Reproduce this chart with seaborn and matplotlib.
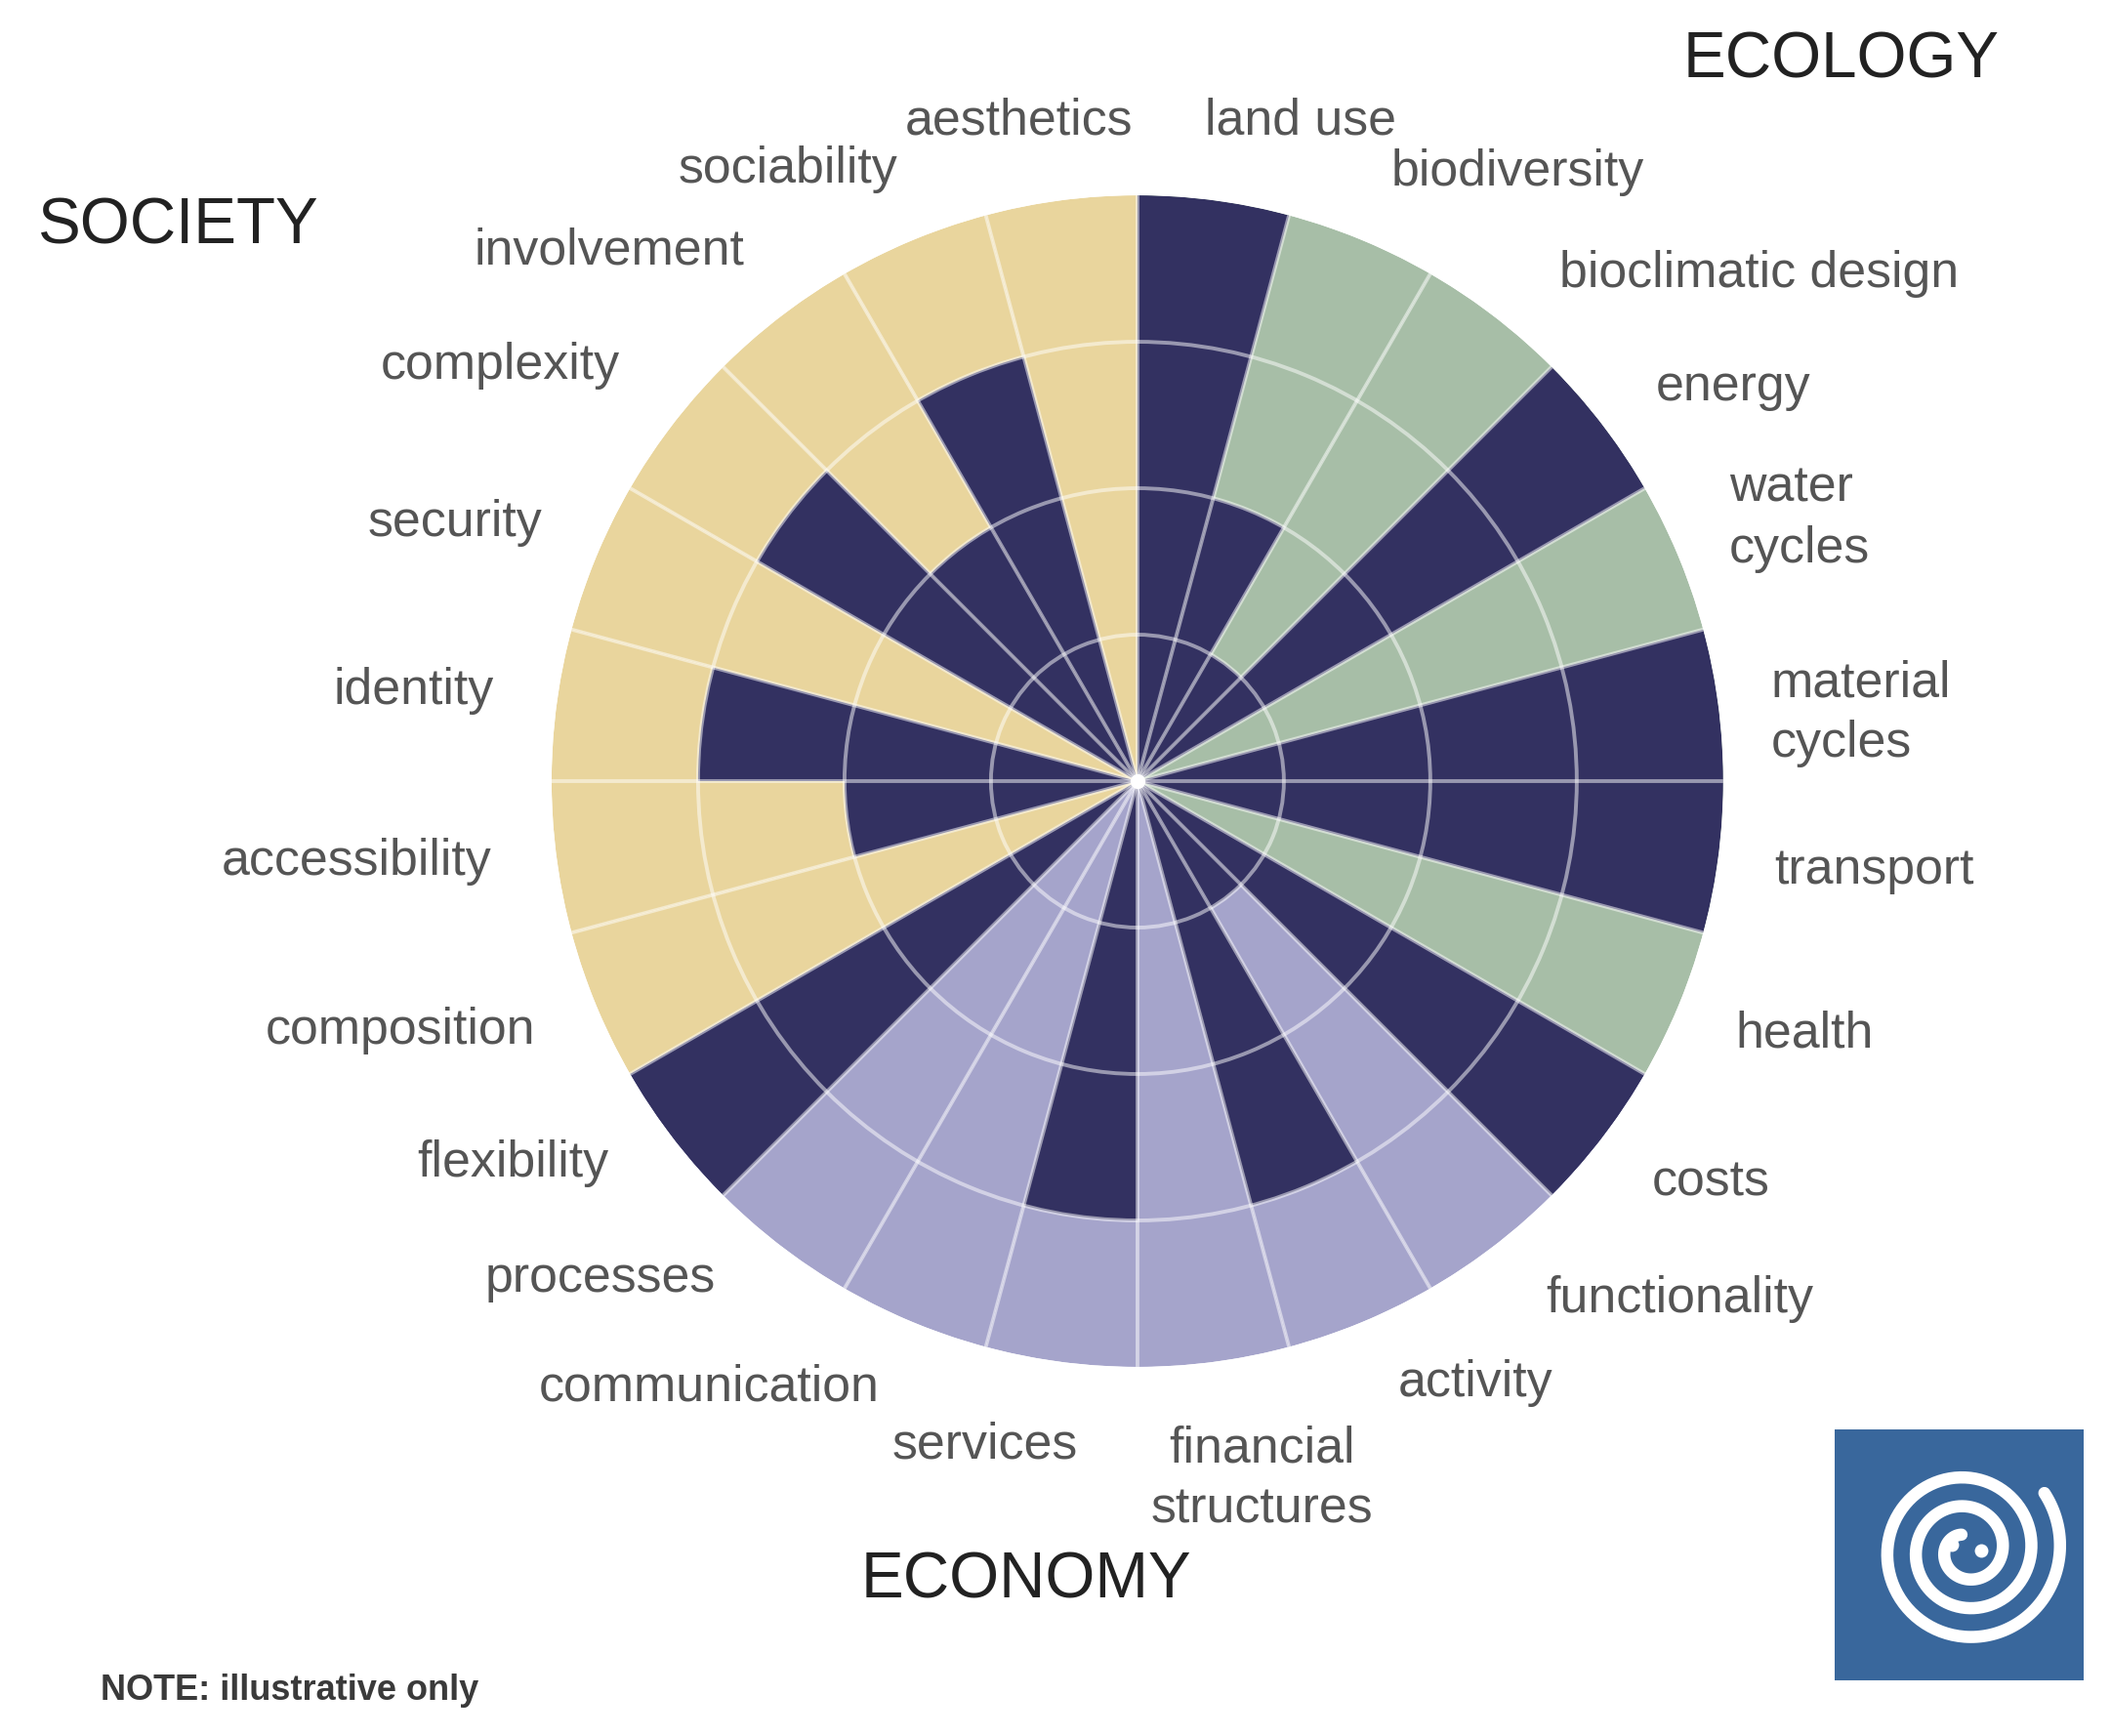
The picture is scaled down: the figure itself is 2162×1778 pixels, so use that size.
import numpy as np
import matplotlib
matplotlib.use("Agg")
import matplotlib.pyplot as plt
import seaborn as sns

# criteria clockwise from north, with the score (0-4) shown by the dark wedge
criteria = ["land use", "biodiversity", "bioclimatic design", "energy",
            "water\ncycles", "material\ncycles", "transport", "health",
            "costs", "functionality", "activity", "financial\nstructures",
            "services", "communication", "processes", "flexibility",
            "composition", "accessibility", "identity", "security",
            "complexity", "involvement", "sociability", "aesthetics"]
scores = [4, 2, 1, 4, 0, 4, 4, 0,
          4, 1, 3, 0, 3, 0, 0, 4,
          0, 2, 3, 0, 3, 2, 3, 0]
domains = ["ECOLOGY", "ECOLOGY", "ECOLOGY", "ECOLOGY",
           "ECOLOGY", "ECOLOGY", "ECOLOGY", "ECOLOGY",
           "ECONOMY", "ECONOMY", "ECONOMY", "ECONOMY",
           "ECONOMY", "ECONOMY", "ECONOMY", "ECONOMY",
           "SOCIETY", "SOCIETY", "SOCIETY", "SOCIETY",
           "SOCIETY", "SOCIETY", "SOCIETY", "SOCIETY"]
scale_max = 4

# label placement (bearing in degrees, radius in score units, alignment)
label_angle = [13.9, 32.0, 50.8, 56.5, 66.1, 83.9, 96.9, 110.8,
               125.0, 133.7, 150.7, 169.9, 192.9, 215.2, 227.2, 238.5,
               251.3, 264.1, 277.1, 290.7, 303.1, 315.1, 330.3, 349.8]
label_radius = [4.64, 4.90, 5.48, 4.88, 4.42, 4.35, 5.07, 4.87,
                4.78, 5.12, 4.71, 4.84, 4.65, 5.07, 5.00, 5.00,
                5.31, 5.36, 4.98, 4.98, 5.19, 5.11, 4.81, 4.58]
label_ha = ["center"] * 4 + ["left", "left"] + ["center"] * 18

domain_colours = {"ECOLOGY": "#a7bea7", "ECONOMY": "#a5a4cb", "SOCIETY": "#e9d59d"}
NAVY = "#333161"

sns.set_theme(style="white")
plt.rcParams["font.family"] = ["Liberation Sans", "DejaVu Sans"]

fig = plt.figure(figsize=(10.81, 8.89), dpi=200)
ax = fig.add_axes([0.2613, 0.2126, 0.5550, 0.6749], projection="polar")
ax.set_theta_zero_location("N")
ax.set_theta_direction(-1)

n = len(criteria)
step = 2 * np.pi / n
theta = np.arange(n) * step + step / 2

ax.bar(theta, [scale_max] * n, width=step, linewidth=0,
       color=[domain_colours[d] for d in domains], zorder=1)
ax.bar(theta, scores, width=step, linewidth=0, color=NAVY, zorder=2)

ax.set_xticks(np.arange(n) * step)
ax.set_xticklabels([])
ax.set_yticks([1, 2, 3])
ax.set_yticklabels([])
ax.set_ylim(0, scale_max)
ax.grid(True, color="white", alpha=0.5, linewidth=1.4)
ax.set_axisbelow(False)
ax.spines["polar"].set_visible(False)
ax.set_facecolor("none")
ax.scatter([0], [0], s=30, color="white", zorder=5, linewidth=0)

for name, ang, rad, ha in zip(criteria, label_angle, label_radius, label_ha):
    ax.text(np.deg2rad(ang), rad, name, ha=ha, va="center", linespacing=1.35,
            multialignment=ha, fontsize=18.7, color="#555555")

fig.text(0.8723, 0.9651, "ECOLOGY", ha="center", va="center", fontsize=23.6, color="#222222")
fig.text(0.0846, 0.8695, "SOCIETY", ha="center", va="center", fontsize=23.6, color="#222222")
fig.text(0.4861, 0.0889, "ECONOMY", ha="center", va="center", fontsize=23.6, color="#222222")
fig.text(0.0476, 0.0259, "NOTE: illustrative only", ha="left", va="center",
         fontsize=13, fontweight="bold", color="#3a3a3a")

# logo: blue square with a white spiral (decoration)
lax = fig.add_axes([0.869, 0.032, 0.118, 0.1445])
lax.set_facecolor("#39679c")
lax.set_xlim(0, 1)
lax.set_ylim(0, 1)
lax.set_xticks([])
lax.set_yticks([])
for s in lax.spines.values():
    s.set_visible(False)
t = np.linspace(0.6 * np.pi, 6.2 * np.pi, 500)
r = 0.03 + 0.115 * t / (2 * np.pi)
lax.plot(0.53 + r * np.cos(t), 0.52 + r * np.sin(t), color="white",
         linewidth=4.5, solid_capstyle="round")
lax.scatter([0.47, 0.59], [0.54, 0.52], s=25, color="white", linewidth=0)

fig.savefig("out.png", dpi=200, facecolor="white")
